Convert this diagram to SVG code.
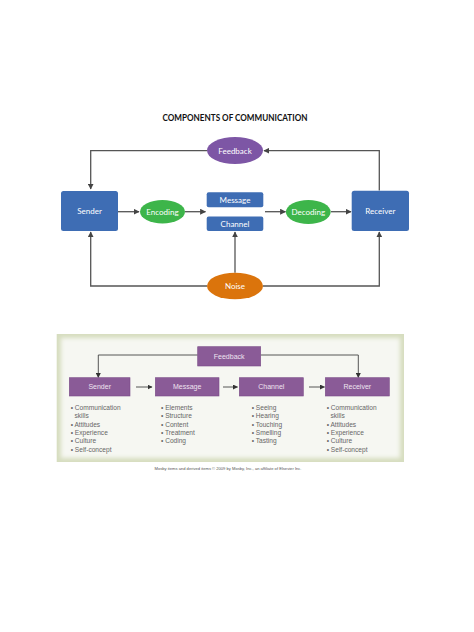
<svg xmlns="http://www.w3.org/2000/svg" width="474" height="632" viewBox="0 0 474 632">
<defs>
<marker id="ah" viewBox="0 0 10 10" refX="9" refY="5" markerWidth="6" markerHeight="6" markerUnits="userSpaceOnUse" orient="auto">
<path d="M0,0 L10,5 L0,10 z" fill="#444"/>
</marker>
<marker id="ah2" viewBox="0 0 10 10" refX="9" refY="5" markerWidth="5" markerHeight="5" markerUnits="userSpaceOnUse" orient="auto">
<path d="M0,0 L10,5 L0,10 z" fill="#333"/>
</marker>
<filter id="soft" x="-5%" y="-10%" width="110%" height="120%"><feGaussianBlur stdDeviation="2"/></filter>
</defs>
<style>
.t{font-family:"Lato","Liberation Sans",sans-serif;fill:#fff;font-size:8px;text-anchor:middle;dominant-baseline:central}
.blue{fill:#3E6DB4}
.green{fill:#3DB54A}
.ln{fill:none;stroke:#555;stroke-width:1.3}
.ln2{fill:none;stroke:#444;stroke-width:0.9}
.pbox{fill:#8A5B97;stroke:#7a4c87;stroke-width:0.6}
.pt{font-family:"Liberation Sans",sans-serif;fill:#efe3f0;font-size:7px;text-anchor:middle;dominant-baseline:central}
.li{font-family:"Liberation Sans",sans-serif;fill:#666;font-size:6.6px}
</style>
<rect width="474" height="632" fill="#fff"/>
<text x="235" y="117.5" font-family="Lato,'Liberation Sans',sans-serif" font-weight="bold" font-size="9" fill="#111" text-anchor="middle" dominant-baseline="central" textLength="145" lengthAdjust="spacingAndGlyphs">COMPONENTS OF COMMUNICATION</text>

<g id="connectors">
<polyline class="ln" points="207,150.7 90.7,150.7 90.7,189" marker-end="url(#ah)"/>
<polyline class="ln" points="379.3,190.5 379.3,150.7 264,150.7" marker-end="url(#ah)"/>
<line class="ln" x1="118" y1="211.7" x2="139" y2="211.7" marker-end="url(#ah)"/>
<line class="ln" x1="185" y1="211.7" x2="205.5" y2="211.7" marker-end="url(#ah)"/>
<line class="ln" x1="265" y1="211.7" x2="285.5" y2="211.7" marker-end="url(#ah)"/>
<line class="ln" x1="331" y1="211.7" x2="351" y2="211.7" marker-end="url(#ah)"/>
<polyline class="ln" points="207,286 90.7,286 90.7,232" marker-end="url(#ah)"/>
<polyline class="ln" points="263,286 379.3,286 379.3,232" marker-end="url(#ah)"/>
<line class="ln" x1="235" y1="272.7" x2="235" y2="232" marker-end="url(#ah)"/>
</g>

<g id="feedback"><ellipse cx="235" cy="150.5" rx="28" ry="13.5" fill="#7D56A5"/><text class="t" x="235" y="150.5">Feedback</text></g>
<g id="sender"><rect class="blue" x="61" y="191" width="57" height="40" rx="2.5"/><text class="t" x="89.5" y="211">Sender</text></g>
<g id="encoding"><ellipse class="green" cx="162.5" cy="211.7" rx="22.5" ry="11.7"/><text class="t" x="162.5" y="211.7">Encoding</text></g>
<g id="message"><rect class="blue" x="206.7" y="192.3" width="56.6" height="15" rx="2"/><text class="t" x="235" y="199.8">Message</text></g>
<g id="channel"><rect class="blue" x="206.7" y="216.5" width="56.6" height="14.5" rx="2"/><text class="t" x="235" y="223.8">Channel</text></g>
<g id="decoding"><ellipse class="green" cx="308.3" cy="212" rx="22.4" ry="12"/><text class="t" x="308.3" y="212">Decoding</text></g>
<g id="receiver"><rect class="blue" x="351.7" y="190.7" width="57.3" height="40.3" rx="2.5"/><text class="t" x="380.3" y="210.5">Receiver</text></g>
<g id="noise"><ellipse cx="235" cy="286" rx="28" ry="13.3" fill="#DB740C"/><text class="t" x="235" y="286">Noise</text></g>

<g id="panel">
<rect x="56.7" y="334" width="347.3" height="128" fill="#d6ddbf"/>
<rect x="61" y="338" width="339" height="120" fill="#f6f7f2" filter="url(#soft)"/>
</g>

<g id="connectors2">
<polyline class="ln2" points="197.7,355 98.3,355 98.3,377.5" marker-end="url(#ah2)"/>
<polyline class="ln2" points="260.7,355 358.3,355 358.3,377.5" marker-end="url(#ah2)"/>
<line class="ln2" x1="136" y1="387" x2="152" y2="387" marker-end="url(#ah2)"/>
<line class="ln2" x1="223" y1="387" x2="237.5" y2="387" marker-end="url(#ah2)"/>
<line class="ln2" x1="309" y1="387" x2="324.5" y2="387" marker-end="url(#ah2)"/>
</g>

<g id="b-feedback"><rect class="pbox" x="197.7" y="346.7" width="63" height="19.3"/><text class="pt" x="229.2" y="356">Feedback</text></g>
<g id="b-sender"><rect class="pbox" x="69.3" y="377.7" width="60.7" height="18.3"/><text class="pt" x="99.7" y="386.8">Sender</text></g>
<g id="b-message"><rect class="pbox" x="155.3" y="377.7" width="63.7" height="18.3"/><text class="pt" x="187.2" y="386.8">Message</text></g>
<g id="b-channel"><rect class="pbox" x="239.3" y="377.7" width="64" height="18.3"/><text class="pt" x="271.3" y="386.8">Channel</text></g>
<g id="b-receiver"><rect class="pbox" x="325.3" y="377.7" width="64" height="18.3"/><text class="pt" x="357.3" y="386.8">Receiver</text></g>

<g id="list-sender" class="li">
<text x="70.7" y="410">• Communication</text>
<text x="74.5" y="418.3">skills</text>
<text x="70.7" y="426.6">• Attitudes</text>
<text x="70.7" y="434.9">• Experience</text>
<text x="70.7" y="443.2">• Culture</text>
<text x="70.7" y="451.5">• Self-concept</text>
</g>
<g id="list-message" class="li">
<text x="161" y="410">• Elements</text>
<text x="161" y="418.3">• Structure</text>
<text x="161" y="426.6">• Content</text>
<text x="161" y="434.9">• Treatment</text>
<text x="161" y="443.2">• Coding</text>
</g>
<g id="list-channel" class="li">
<text x="251.7" y="410">• Seeing</text>
<text x="251.7" y="418.3">• Hearing</text>
<text x="251.7" y="426.6">• Touching</text>
<text x="251.7" y="434.9">• Smelling</text>
<text x="251.7" y="443.2">• Tasting</text>
</g>
<g id="list-receiver" class="li">
<text x="326.7" y="410">• Communication</text>
<text x="330.5" y="418.3">skills</text>
<text x="326.7" y="426.6">• Attitudes</text>
<text x="326.7" y="434.9">• Experience</text>
<text x="326.7" y="443.2">• Culture</text>
<text x="326.7" y="451.5">• Self-concept</text>
</g>
<text x="228" y="469.5" font-family="'Liberation Sans',sans-serif" font-size="3.6" fill="#555" text-anchor="middle" textLength="147" lengthAdjust="spacingAndGlyphs">Mosby items and derived items © 2009 by Mosby, Inc., an affiliate of Elsevier Inc.</text>
</svg>
